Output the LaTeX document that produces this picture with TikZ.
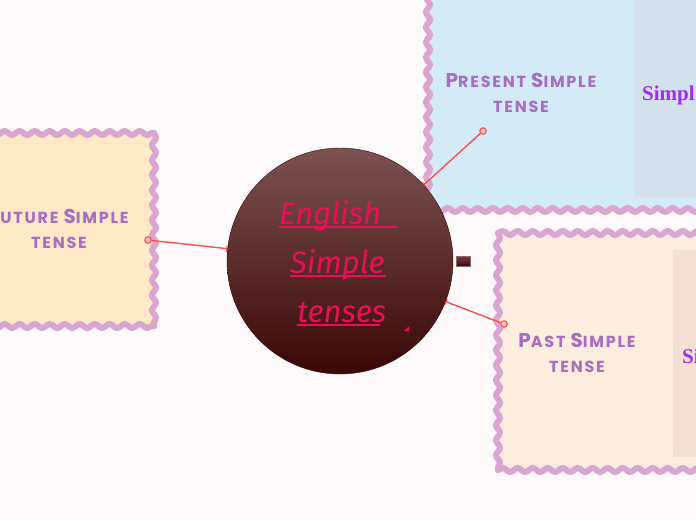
\documentclass[tikz,border=0pt]{standalone}
\usepackage{fontspec}
\setmainfont{Fira Sans}
\newfontfamily\titlefont{Poppins}[LetterSpace=11]
\newfontfamily\handfont{Fira Sans}
\newfontfamily\panelfont{Liberation Serif}
\newfontfamily\cyrfont{DejaVu Sans}
\usetikzlibrary{decorations.pathmorphing, arrows.meta, positioning}

\definecolor{bgpink}{HTML}{FEFAFB}
\definecolor{waveborder}{HTML}{D8A6CF}
\definecolor{presentfill}{HTML}{D3EAF7}
\definecolor{presentpanel}{HTML}{D3E1EA}
\definecolor{futurefill}{HTML}{FFE9C9}
\definecolor{pastfill}{HTML}{FDEDDC}
\definecolor{pastpanel}{HTML}{F4E1D4}
\definecolor{titleviolet}{HTML}{A66DC2}
\definecolor{panelviolet}{HTML}{A22BF0}
\definecolor{linkred}{HTML}{FF4F4F}
\definecolor{handred}{HTML}{EB0F5A}
\definecolor{balltop}{HTML}{7A5352}
\definecolor{ballbottom}{HTML}{3B0606}

% big first letter, small caps after it
\newcommand{\tcap}[2]{{\fontsize{20}{25}\selectfont #1}{\fontsize{16}{25}\selectfont #2}}

\begin{document}
\begin{tikzpicture}[
  x=1pt, y=-1pt,
  wave/.style={draw=waveborder, line width=6pt, line cap=round, decorate,
    decoration={snake, amplitude=2pt, segment length=15pt}},
  tense/.style={align=center, text=titleviolet, inner sep=0,
    font=\titlefont\bfseries\fontsize{16}{25}\selectfont},
  ball/.style={circle, draw=ballbottom, thin, inner sep=0, minimum size=226pt,
    top color=balltop, bottom color=ballbottom},
  hand/.style={text=handred, inner sep=0, anchor=base west,
    font=\handfont\itshape\fontsize{31}{31}\selectfont},
  uline/.style={handred, line width=2.6pt},
  linkdot/.style={circle, draw=linkred, fill=linkred!35, line width=1.1pt,
    minimum size=6.5pt, inner sep=0},
  link/.style={linkred, line width=1.4pt, -{Bar[width=6pt, line width=1.2pt]}},
  paneltext/.style={text=panelviolet, inner sep=0, anchor=west,
    font=\panelfont\bfseries\fontsize{21}{21}\selectfont},
  button/.style={rectangle, draw=ballbottom!60, top color=balltop!80!ballbottom,
    bottom color=ballbottom, minimum width=14pt, minimum height=10pt, inner sep=0,
    text=handred!70!black, font=\cyrfont\fontsize{6}{6}\selectfont}
]

\useasboundingbox (0,0) rectangle (696,520);
\clip (0,0) rectangle (696,520);
\fill[bgpink] (0,0) rectangle (696,520);

% topic boxes, wavy sides drawn one by one
\fill[presentfill] (428,-30) rectangle (730,210);
\fill[presentpanel] (635,-5) rectangle (700,197);
\draw[wave] (428,-30) -- (428,210);
\draw[wave] (428,210) -- (730,210);

\fill[futurefill] (-30,133) rectangle (154,326);
\draw[wave] (-30,133) -- (154,133);
\draw[wave] (154,133) -- (154,326);
\draw[wave] (-30,326) -- (154,326);

\fill[pastfill] (498,233) rectangle (730,470);
\fill[pastpanel] (673,250) rectangle (700,457);
\draw[wave] (498,233) -- (730,233);
\draw[wave] (498,233) -- (498,470);
\draw[wave] (498,470) -- (730,470);

\node[tense] (present) at (521,93) {\tcap{P}{RESENT} \tcap{S}{IMPLE}\\TENSE};
\node[tense] (future) at (59,229) {\tcap{F}{UTURE} \tcap{S}{IMPLE}\\TENSE};
\node[tense] (past) at (577,353) {\tcap{P}{AST} \tcap{S}{IMPLE}\\TENSE};

\node[paneltext] (presentword) at (642,95) {Simpl};
\node[paneltext] (pastword) at (682,356) {Si};

% central topic
\node[ball] (centre) at (340,261) {};
\node[hand] (english) at (279,224) {English};
\node[hand] (simple) at (290,273) {Simple};
\node[hand] (tenses) at (297,322) {tenses};
\draw[uline] ([yshift=-3pt]english.base west) -- ++(118,0);
\draw[uline] ([yshift=-3pt]simple.base west) -- ++(96,0);
\draw[uline] ([yshift=-3pt]tenses.base west) -- ++(83,0);
\fill[handred] (404,331) -- (409,331) -- (409,326) -- cycle;

\node[button] (collapse) at (463,261) {ИП};

% connectors
\node[linkdot] (presentdot) at (483,131) {};
\node[linkdot] (futuredot) at (148,240) {};
\node[linkdot] (pastdot) at (504,324) {};
\draw[link] (presentdot) -- (centre);
\draw[link] (futuredot) -- (centre);
\draw[link] (pastdot) -- (centre);

\end{tikzpicture}
\end{document}
